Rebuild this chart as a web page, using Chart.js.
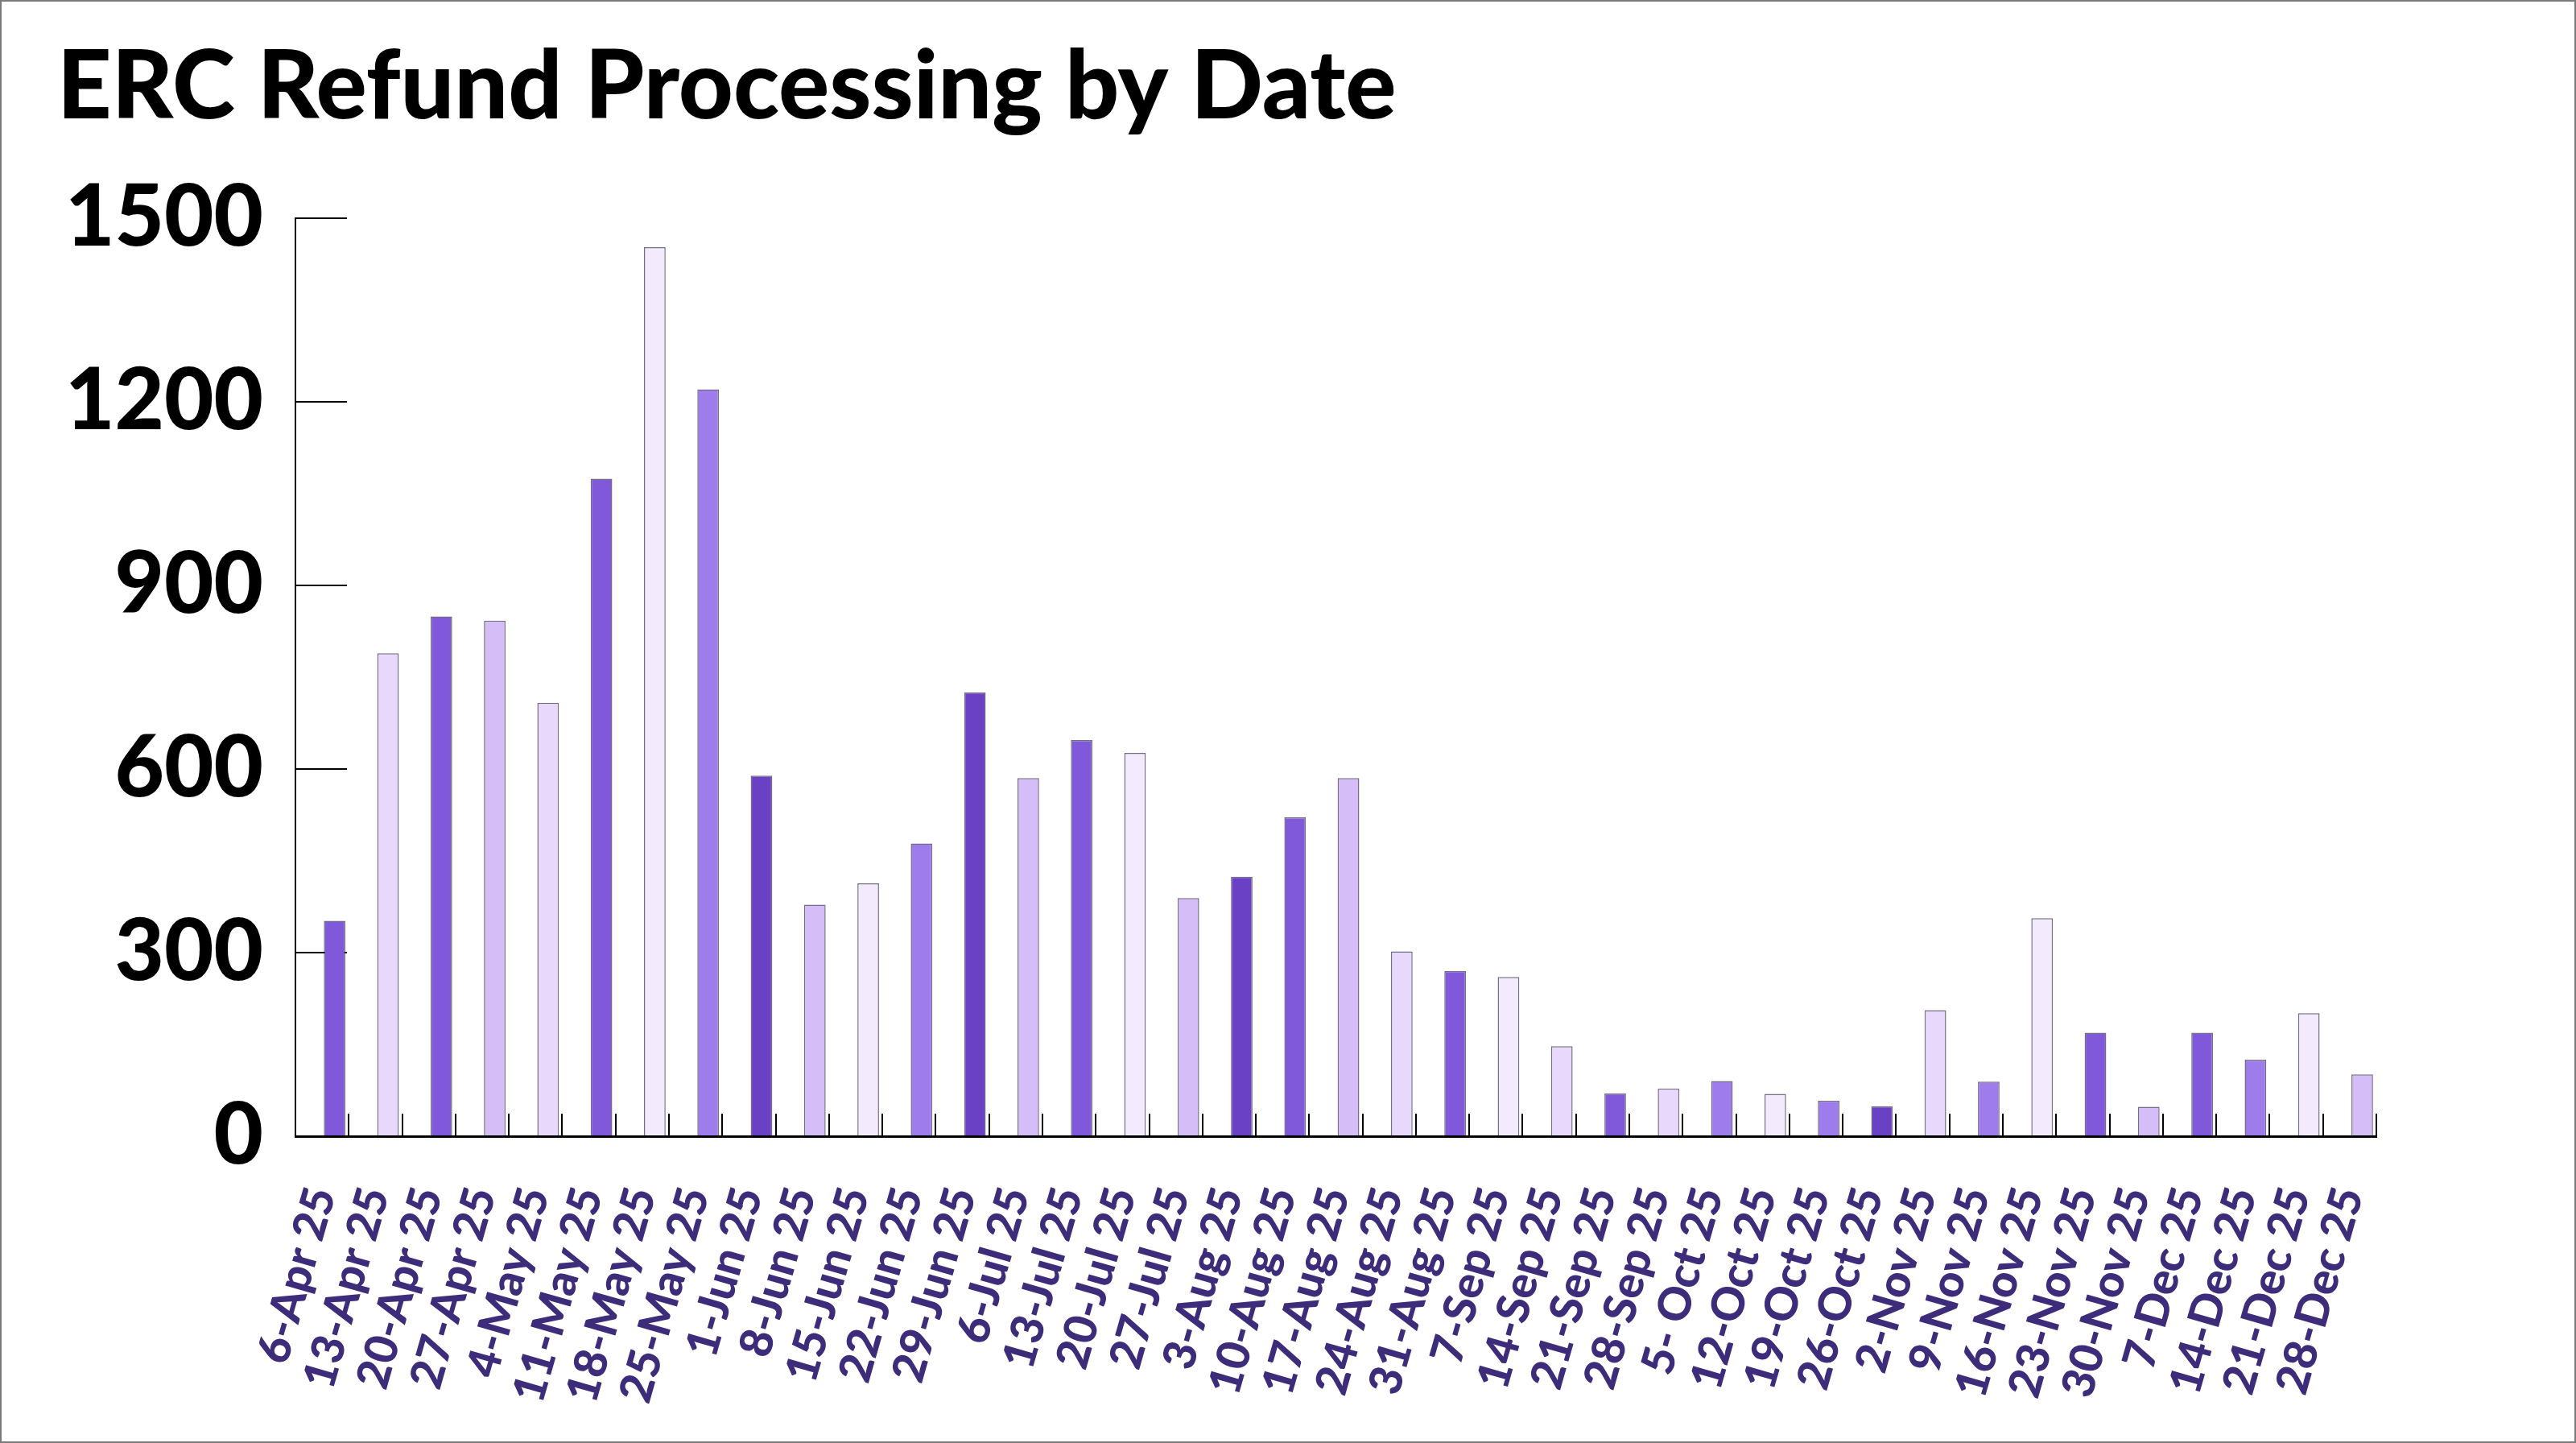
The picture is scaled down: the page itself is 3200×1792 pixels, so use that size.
<!DOCTYPE html>
<html>
<head>
<meta charset="utf-8">
<title>ERC Refund Processing by Date</title>
<script src="https://cdn.jsdelivr.net/npm/chart.js@4.4.1/dist/chart.umd.min.js"></script>
<style>
  html, body { margin: 0; padding: 0; background: #fff; }
  #wrap { position: relative; width: 3200px; height: 1792px; }
  #frame { position: absolute; left: 0; top: 0; width: 3200px; height: 1792px; box-sizing: border-box; border: 2px solid #7a7a7a; pointer-events: none; }
  canvas { position: absolute; left: 0; top: 0; }
</style>
</head>
<body>
<div id="wrap">
  <canvas id="refundChart" width="3200" height="1792"></canvas>
  <div id="frame"></div>
</div>
<script>
// week labels
const categories = [
    '6-Apr 25', '13-Apr 25', '20-Apr 25', '27-Apr 25',
    '4-May 25', '11-May 25', '18-May 25', '25-May 25',
    '1-Jun 25', '8-Jun 25', '15-Jun 25', '22-Jun 25', '29-Jun 25',
    '6-Jul 25', '13-Jul 25', '20-Jul 25', '27-Jul 25',
    '3-Aug 25', '10-Aug 25', '17-Aug 25', '24-Aug 25', '31-Aug 25',
    '7-Sep 25', '14-Sep 25', '21-Sep 25', '28-Sep 25',
    '5- Oct 25', '12-Oct 25', '19-Oct 25', '26-Oct 25',
    '2-Nov 25', '9-Nov 25', '16-Nov 25', '23-Nov 25', '30-Nov 25',
    '7-Dec 25', '14-Dec 25', '21-Dec 25', '28-Dec 25'
];

// refunds processed per week
const refunds = [
    352, 789, 849, 842,
    708, 1074, 1452, 1220,
    589, 378, 413, 478, 725,
    585, 647, 626, 389,
    424, 521, 585, 302, 270,
    260, 147, 70, 78,
    90, 69, 58, 49,
    206, 89, 356, 169, 48,
    169, 125, 201, 101
];

// empty series, only there to keep the left half of each slot free
const spacer = categories.map(() => null);

const yTicks = [0, 300, 600, 900, 1200, 1500];

// purple shades
const DARK = '#6a41c5';
const MID = '#8058da';
const SOFT = '#9f7ceb';
const LIGHT = '#d5bdf8';
const PALE = '#e8d9fc';
const FAINT = '#f3eafe';

const barColors = [
    MID, PALE, MID, LIGHT,
    PALE, MID, FAINT, SOFT,
    DARK, LIGHT, FAINT, SOFT, DARK,
    LIGHT, MID, FAINT, LIGHT,
    DARK, MID, LIGHT, PALE, MID,
    FAINT, PALE, MID, PALE,
    SOFT, FAINT, SOFT, DARK,
    PALE, SOFT, FAINT, MID, LIGHT,
    MID, SOFT, FAINT, LIGHT
];

const ctx = document.getElementById('refundChart').getContext('2d');
const refundChart = new Chart(ctx, {
    type: 'bar',
    data: {
        labels: categories,
        datasets: [
            {
                label: '',
                data: spacer,
            },
            {
                label: 'Refunds',
                data: refunds,
                backgroundColor: barColors,
                borderColor: 'rgba(70,60,90,0.75)',
                borderWidth: 1.5,
                borderSkipped: 'bottom',
            },
        ],
    },
    options: {
        responsive: false,
        animation: false,
        devicePixelRatio: 1,
        categoryPercentage: 0.94,
        barPercentage: 0.86,
        layout: {
            padding: { left: 71, right: 248, top: 0, bottom: 0 },
        },
        scales: {
            x: {
                afterFit: (scale) => { scale.height = 381; },
                grid: {
                    offset: true,
                    drawOnChartArea: false,
                    color: '#000',
                    lineWidth: 2,
                    tickLength: -28, // tick marks point up into the plot
                },
                border: { display: true, color: '#000', width: 3 },
                ticks: {
                    autoSkip: false,
                    minRotation: 74,
                    maxRotation: 74,
                    padding: 84,
                    color: '#3d2c7a',
                    font: { family: 'Lato, sans-serif', size: 56, weight: 900 },
                },
            },
            y: {
                min: 0,
                max: 1500,
                afterFit: (scale) => { scale.width = 296; },
                afterBuildTicks: (scale) => { scale.ticks = yTicks.map(v => ({ value: v })); },
                grid: {
                    drawOnChartArea: false,
                    color: '#000',
                    lineWidth: 2,
                    tickLength: -64, // long ticks pointing right
                },
                border: { display: true, color: '#000', width: 2 },
                ticks: {
                    padding: 104,
                    color: '#000',
                    callback: (value) => String(value), // no thousands separator
                    font: { family: 'Lato, sans-serif', size: 106, weight: 900 },
                },
            },
        },
        plugins: {
            legend: { display: false },
            tooltip: { enabled: false },
            title: {
                display: true,
                text: 'ERC Refund Processing by Date',
                align: 'start',
                color: '#000',
                font: { family: 'Lato, sans-serif', size: 118, weight: 900, lineHeight: 1.2 },
                padding: { top: 38, bottom: 91 },
            },
        },
    },
});
</script>
</body>
</html>
